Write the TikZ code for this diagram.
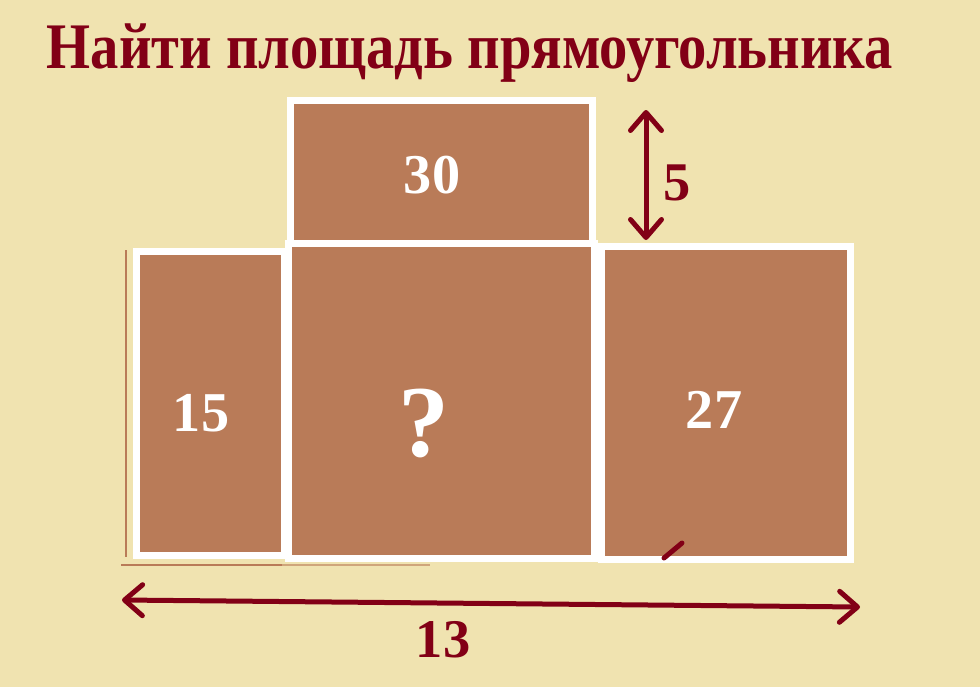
\documentclass[tikz,border=0pt]{standalone}
\usepackage{fontspec}
\setmainfont{Liberation Serif}
\usetikzlibrary{arrows.meta}
\definecolor{paper}{RGB}{240,227,176}
\definecolor{brick}{RGB}{185,123,88}
\definecolor{wine}{RGB}{130,0,22}

\begin{document}
\begin{tikzpicture}[x=0.02cm, y=-0.02cm,
  part/.style n args={2}{rectangle, fill=brick, draw=white, line width=0.14cm,
    minimum width=#1*0.02cm, minimum height=#2*0.02cm, inner sep=0pt},
  num/.style={text=white, font=\bfseries\fontsize{32}{33}\selectfont},
  side/.style={text=wine, font=\bfseries\fontsize{31}{32}\selectfont},
  dim/.style={draw=wine, line width=0.1cm, line cap=round,
    {Straight Barb[length=0.36cm, width=0.62cm, round]}-{Straight Barb[length=0.36cm, width=0.62cm, round]}}]
  \fill[paper] (0,0) rectangle (980,687);
  \useasboundingbox (0,0) rectangle (980,687);

  % title
  \node[text=wine, anchor=base, font=\bfseries\fontsize{37}{38}\selectfont] (title) at (470,68)
    {\scalebox{0.87}[1]{Найти площадь прямоугольника}};

  % the four pieces
  \node[part={148}{304}] (left) at (210.5,403.5) {};
  \node[part={306}{315}] (mid) at (441.5,401) {};
  \node[part={302}{143}] (top) at (441.5,172) {};
  \node[part={249}{313}] (right) at (726,403) {};

  % faint outline round the left piece
  \draw[brick, line width=0.04cm] (126,250) -- (126,557);
  \draw[brick, line width=0.05cm] (121,565) -- (282,565);
  \draw[brick!60!paper, line width=0.04cm] (282,565) -- (430,565);

  \node[num] (areaTop) at (432,175) {30};
  \node[num] (areaLeft) at (201,413) {15};
  \node[num] (areaRight) at (714,410) {27};
  \node[text=white, font=\bfseries\fontsize{58}{60}\selectfont] (ask) at (424,423) {?};

  % height of the top piece
  \coordinate (ht) at (646,110);
  \coordinate (hb) at (646,240);
  \draw[dim] (ht) -- (hb);
  \node[side] (h) at (677,183) {5};

  % whole width
  \coordinate (wl) at (122,600);
  \coordinate (wr) at (860,607);
  \draw[dim] (wl) -- (wr);
  \node[side] (w) at (443,640) {13};

  % stray stroke
  \coordinate (s1) at (664,558);
  \coordinate (s2) at (682,543);
  \draw[wine, line width=0.1cm, line cap=round] (s1) -- (s2);
\end{tikzpicture}
\end{document}
